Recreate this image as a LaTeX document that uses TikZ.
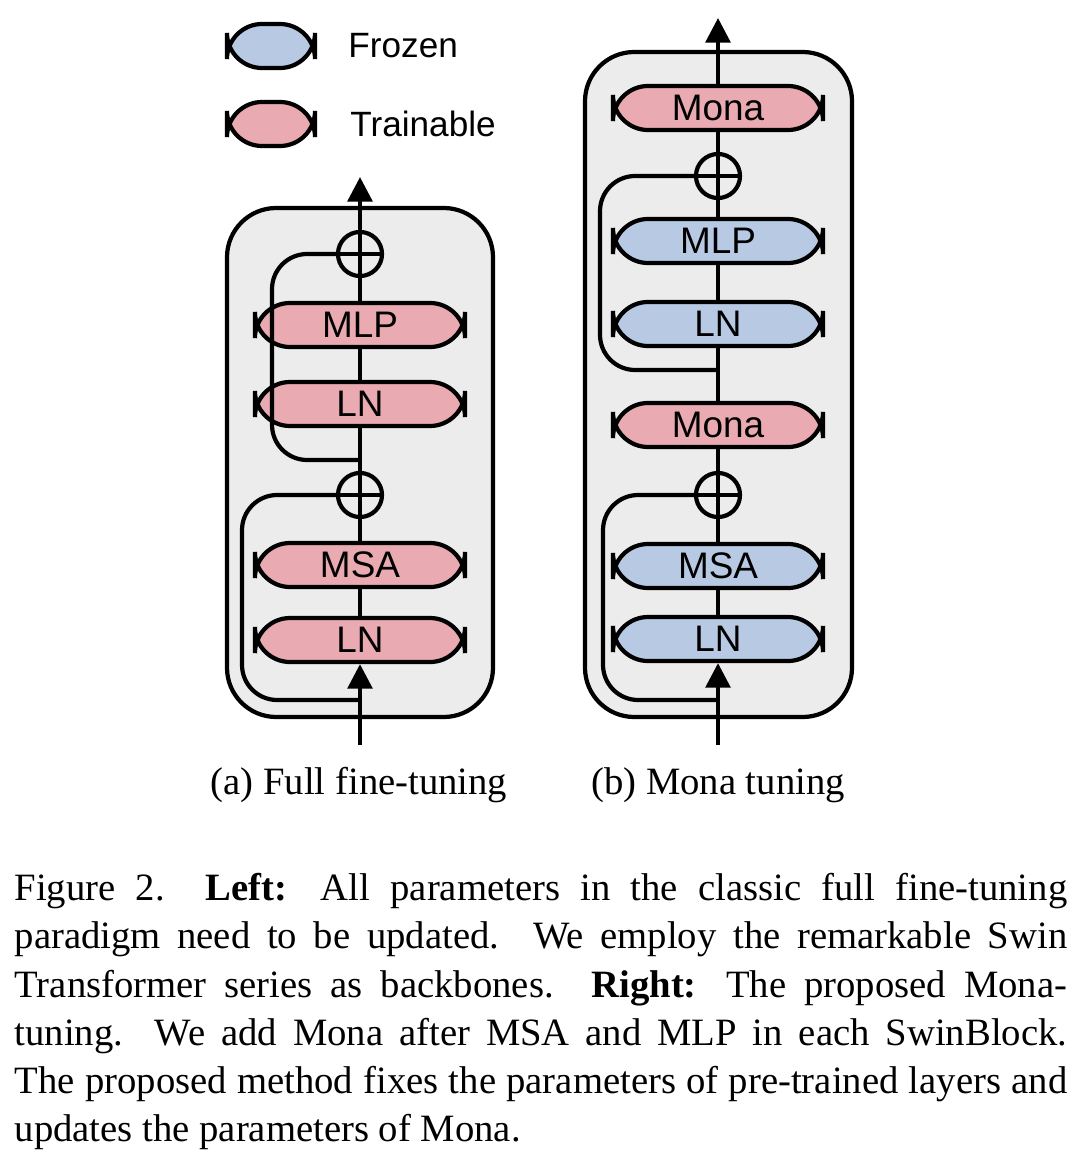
\documentclass[tikz,border=0pt]{standalone}
\usepackage{fontspec}
\setmainfont{Liberation Serif}
\newfontfamily\sansf{Liberation Sans}
\usetikzlibrary{arrows.meta}
\definecolor{pinkc}{HTML}{E9AAB2}
\definecolor{bluec}{HTML}{B8CAE3}
\definecolor{grayc}{HTML}{ECECEC}
\begin{document}
\begin{tikzpicture}[x=0.01cm,y=-0.01cm,
 blk/.style={draw=black,line width=1.2pt,rounded corners=10pt,minimum width=2.1cm,minimum height=0.44cm,font=\sansf\fontsize{10.5}{12}\selectfont,inner sep=0pt},
 tr/.style={blk,fill=pinkc},
 fr/.style={blk,fill=bluec},
 plus/.style={draw=black,line width=1.2pt,circle,minimum size=0.44cm,inner sep=0pt,path picture={\draw[line width=1.2pt] (path picture bounding box.north)--(path picture bounding box.south) (path picture bounding box.west)--(path picture bounding box.east);}},
 ln/.style={line width=1.2pt},
 ar/.style={line width=1.2pt,-{Triangle[length=7pt,width=7pt]}},
 cont/.style={draw=black,line width=1.2pt,fill=grayc,rounded corners=14pt}]
\useasboundingbox (0,0) rectangle (1080,1173);
% legend
\node[fr,minimum width=0.88cm] (lf) at (271,46) {};
\node[anchor=west,font=\sansf\fontsize{10}{12}\selectfont] (lft) at (336,46) {Frozen};
\node[tr,minimum width=0.88cm] (lt) at (271,124) {};
\node[anchor=west,font=\sansf\fontsize{10}{12}\selectfont] (ltt) at (338,124) {Trainable};
% left
\draw[cont] (227,208) rectangle (493,717);
\coordinate (la) at (360,745);
\coordinate (lb) at (360,700);
\coordinate (lc) at (360,460);
\coordinate (ltop) at (360,177);
\node[tr] (lln1) at (360,640) {LN};
\node[tr] (lmsa) at (360,565) {MSA};
\node[plus] (lp1) at (360,495) {};
\node[tr] (lln2) at (360,404) {LN};
\node[tr] (lmlp) at (360,325) {MLP};
\node[plus] (lp2) at (360,254) {};
\draw[ar] (la) -- (lln1.south);
\draw[ln] (lln1) -- (lmsa) (lmsa) -- (lp1) (lp1) -- (lln2) (lln2) -- (lmlp) (lmlp) -- (lp2);
\draw[ar] (lp2) -- (ltop);
\draw[ln,rounded corners=10pt] (lb) -| (242,495) -- (lp1.west);
\draw[ln,rounded corners=10pt] (lc) -| (272,254) -- (lp2.west);
% right
\draw[cont] (585,52) rectangle (852,717);
\coordinate (ra) at (718,745);
\coordinate (rb) at (718,700);
\coordinate (rc) at (718,370);
\coordinate (rtop) at (718,18);
\node[fr] (rln1) at (718,639) {LN};
\node[fr] (rmsa) at (718,566) {MSA};
\node[plus] (rp1) at (718,495) {};
\node[tr] (rmona1) at (718,425) {Mona};
\node[fr] (rln2) at (718,324) {LN};
\node[fr] (rmlp) at (718,241) {MLP};
\node[plus] (rp2) at (718,176) {};
\node[tr] (rmona2) at (718,108) {Mona};
\draw[ar] (ra) -- (rln1.south);
\draw[ln] (rln1) -- (rmsa) (rmsa) -- (rp1) (rp1) -- (rmona1) (rmona1) -- (rln2) (rln2) -- (rmlp) (rmlp) -- (rp2) (rp2) -- (rmona2);
\draw[ar] (rmona2) -- (rtop);
\draw[ln,rounded corners=10pt] (rb) -| (603,495) -- (rp1.west);
\draw[ln,rounded corners=10pt] (rc) -| (600,176) -- (rp2.west);
% captions
\node[font=\fontsize{11}{13}\selectfont] (ca) at (359,785) {(a) Full fine-tuning};
\node[font=\fontsize{11}{13}\selectfont] (cb) at (718,785) {(b) Mona tuning};
\node[anchor=north west,text width=10.52cm,align=justify,inner sep=0pt,font=\fontsize{11}{13.66}\selectfont] (cap) at (14,873) {Figure 2.\ \ \textbf{Left:} All parameters in the classic full fine-tuning\linebreak paradigm need to be updated. We employ the remarkable Swin\linebreak Transformer series as backbones. \textbf{Right:} The proposed Mona-\linebreak tuning. We add Mona after MSA and MLP in each SwinBlock.\linebreak The proposed method fixes the parameters of pre-trained layers and\linebreak updates the parameters of Mona.};
\end{tikzpicture}
\end{document}
